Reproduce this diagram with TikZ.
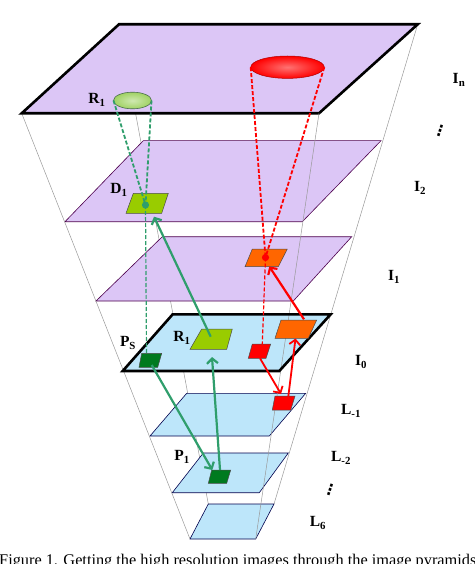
\documentclass[tikz,border=0pt]{standalone}
\usepackage{fontspec}
\setmainfont{Liberation Serif}
\newfontfamily\symfont{DejaVu Sans}
\usetikzlibrary{arrows.meta}
\definecolor{lilac}{RGB}{220,198,246}
\definecolor{lightblue}{RGB}{189,230,250}
\definecolor{tealgreen}{RGB}{47,158,108}
\definecolor{ygreen}{RGB}{153,204,0}
\definecolor{dgreen}{RGB}{0,122,31}
\definecolor{orangep}{RGB}{255,102,0}
\definecolor{egreen}{RGB}{160,210,100}
\newcommand{\lvl}[2]{\textbf{#1\textsubscript{#2}}}
\begin{document}
\begin{tikzpicture}[x=1pt,y=-1pt,
    every node/.style={align=center, font=\fontsize{15.5}{17}\selectfont},
    dots label/.style={font=\symfont\bfseries\fontsize{15}{17}\selectfont, rotate=-18, inner sep=0pt},
    edge line/.style={draw=gray!80, line width=0.5pt},
    violet plane/.style={draw=violet!60!black, line width=0.6pt, fill=lilac},
    blue plane/.style={draw=blue!30!black, line width=0.6pt, fill=lightblue},
    thick plane/.style={draw=black, line width=2.6pt, line join=miter},
    patch/.style={draw=black!70, line width=0.5pt},
    green dash/.style={draw=tealgreen, line width=1.8pt, dash pattern=on 4pt off 2pt},
    red dash/.style={draw=red, line width=1.8pt, dash pattern=on 4pt off 2pt},
    green arrow/.style={draw=tealgreen, line width=2.2pt, -{Straight Barb[length=5pt,width=11pt]}},
    red arrow/.style={draw=red, line width=2.2pt, -{Straight Barb[length=5pt,width=11pt]}},
    ]
\useasboundingbox (0,0) rectangle (474,564);
\coordinate (InA) at (119,24.3);
\coordinate (InB) at (417.7,24.3);
\coordinate (InC) at (319,113.3);
\coordinate (InD) at (21.7,113.3);
\coordinate (L6A) at (208.3,504);
\coordinate (L6B) at (274,504);
\coordinate (L6C) at (255.7,539);
\coordinate (L6D) at (190,539);
\draw[edge line] (InA) -- (L6A);
\draw[edge line] (InB) -- (L6B);
\draw[violet plane] (143.3,140.7) -- (381,140.7) -- (302.3,221.7) -- (65,221.7) -- cycle;
\draw[violet plane] (162.3,236.7) -- (351.7,236.7) -- (293.3,301) -- (96,301) -- cycle;
\draw[blue plane] (186.7,393.3) -- (305.7,393.3) -- (269.3,436) -- (150,436) -- cycle;
\draw[blue plane] (203.3,453) -- (288.3,453) -- (259.3,492.7) -- (172.3,492.7) -- cycle;
\draw[blue plane] (L6A) -- (L6B) -- (L6C) -- (L6D) -- cycle;
\draw[edge line] (InD) -- (L6D);
\fill[lilac] (InA) -- (InB) -- (InC) -- (InD) -- cycle;
\draw[thick plane] (InA) -- (InB) -- (InC) -- (InD) -- cycle;
\fill[lightblue] (172.7,314.3) -- (330.7,314.3) -- (279.3,371) -- (122.7,371) -- cycle;
\draw[edge line] (InC) -- (L6C);
\draw[thick plane] (172.7,314.3) -- (330.7,314.3) -- (279.3,371) -- (122.7,371) -- cycle;
\shade[inner color=egreen!50!white, outer color=egreen] (132.5,100.5) ellipse [x radius=19pt, y radius=8.3pt];
\draw[draw=green!20!black!70, line width=0.6pt] (132.5,100.5) ellipse [x radius=19pt, y radius=8.3pt];
\shade[inner color=red!55!white, outer color=red] (287.5,67.2) ellipse [x radius=36.8pt, y radius=11.2pt];
\draw[draw=red!70!black, line width=0.5pt] (287.5,67.2) ellipse [x radius=36.8pt, y radius=11.2pt];
\coordinate (R1l) at (113.5,100.5);
\coordinate (R1r) at (151.5,100.5);
\coordinate (Rl) at (250.7,67.2);
\coordinate (Rr) at (324.3,67.2);
\draw[patch, fill=ygreen] (133.3,193.3) -- (168.3,193.3) -- (161.7,213.3) -- (126,213.3) -- cycle;
\draw[patch, fill=orangep] (252.3,249) -- (287.3,249) -- (278.3,266.7) -- (245,266.7) -- cycle;
\draw[patch, fill=ygreen] (201.7,329) -- (232.3,329) -- (226.7,349.3) -- (190,349.3) -- cycle;
\draw[patch, fill=dgreen] (141.7,353.3) -- (161.7,353.3) -- (157.7,367.3) -- (139,367.3) -- cycle;
\draw[patch, fill=red] (252.3,344) -- (270.7,344) -- (266,358.3) -- (248.3,358.3) -- cycle;
\draw[patch, fill=orangep] (281,320) -- (316.7,320) -- (308.3,338.3) -- (275,338.3) -- cycle;
\draw[patch, fill=red] (275,396) -- (295,396) -- (290.7,410) -- (272.3,410) -- cycle;
\draw[patch, fill=dgreen] (211.7,470) -- (230.7,470) -- (226.7,483.3) -- (208.3,483.3) -- cycle;
\coordinate (D1dot) at (145.5,205);
\coordinate (PStop) at (146.5,353.3);
\coordinate (I1dot) at (265.5,257.5);
\coordinate (Q0top) at (262.3,344);
\draw[green dash] (R1l) -- (D1dot);
\draw[green dash] (R1r) -- (D1dot);
\draw[green dash, line width=1.2pt] (D1dot) -- (PStop);
\draw[red dash] (Rl) -- (I1dot);
\draw[red dash] (Rr) -- (I1dot);
\draw[red dash, line width=1.2pt] (I1dot) -- (Q0top);
\fill[tealgreen] (D1dot) circle (3.6pt);
\fill[red] (I1dot) circle (3.6pt);
\coordinate (R1c) at (210.7,336.7);
\coordinate (D1b) at (154,216.7);
\coordinate (PSc) at (151.7,365);
\coordinate (P1a) at (212.3,470);
\coordinate (P1b) at (220,470);
\coordinate (R1b) at (212,357);
\coordinate (O0a) at (304,319.3);
\coordinate (O1b) at (269.3,266.5);
\coordinate (Q0c) at (260,358.3);
\coordinate (Q1a) at (281,394);
\coordinate (Q1b) at (288.3,396.5);
\coordinate (O0b) at (295.5,338.5);
\draw[green arrow] (R1c) -- (D1b);
\draw[green arrow] (PSc) -- (P1a);
\draw[green arrow] (P1b) -- (R1b);
\draw[red arrow] (O0a) -- (O1b);
\draw[red arrow, line width=1.8pt] (Q0c) -- (Q1a);
\draw[red arrow, line width=1.8pt] (Q1b) -- (O0b);
\node (R1top) at (97,100) {\lvl{R}{1}};
\node (D1) at (119,190) {\lvl{D}{1}};
\node (PS) at (128,343) {\lvl{P}{S}};
\node (R1) at (182,338) {\lvl{R}{1}};
\node (P1) at (182,457) {\lvl{P}{1}};
\node (In) at (459,80) {\lvl{I}{n}};
\node[dots label] (dotsA) at (440,131) {⋮};
\node (I2) at (420,188) {\lvl{I}{2}};
\node (I1) at (394,277) {\lvl{I}{1}};
\node (I0) at (361,362) {\lvl{I}{0}};
\node (Lm1) at (351,411) {\lvl{L}{-1}};
\node (Lm2) at (341,458) {\lvl{L}{-2}};
\node[dots label] (dotsB) at (330,490) {⋮};
\node (L6) at (318,523) {\lvl{L}{6}};
\node[anchor=base west, font=\fontsize{16.3}{18}\selectfont, inner sep=0pt] (caption) at (-1,565) {Figure 1. Getting the high resolution images through the image pyramids};
\end{tikzpicture}
\end{document}
